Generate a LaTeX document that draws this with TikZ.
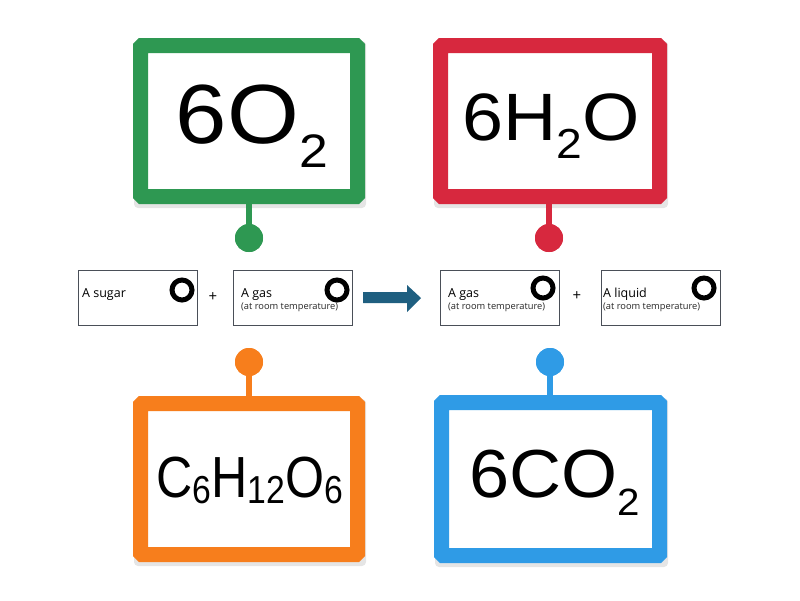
\documentclass[tikz,border=0pt]{standalone}
\usepackage{fontspec}
\setmainfont{Liberation Sans}
\newfontfamily\smallfont{Open Sans}
\definecolor{cgreen}{HTML}{2E9852}
\definecolor{cred}{HTML}{D7283E}
\definecolor{corange}{HTML}{F77E1C}
\definecolor{cblue}{HTML}{2F9BE6}
\definecolor{carrow}{HTML}{1F5F80}
\definecolor{cbord}{HTML}{4A4F58}
\tikzset{
  bigbox/.style={draw=#1, line width=15pt, fill=white, rounded corners=1.5pt},
  shadowbox/.style={fill=black, opacity=0.10, rounded corners=4pt},
  stem/.style={draw=#1, line width=6pt},
  knob/.style={circle, fill=#1, minimum size=28pt, inner sep=0pt},
  smallbox/.style={draw=cbord, line width=0.8pt, fill=white, minimum width=119pt, minimum height=55pt, inner sep=0pt},
  ring/.style={circle, draw=black, line width=5pt, minimum size=20pt, inner sep=0pt},
  lbl/.style={anchor=base west, inner sep=0pt, font=\smallfont\fontsize{12.5}{14}\selectfont},
  sublbl/.style={anchor=base west, inner sep=0pt, font=\smallfont\fontsize{9.3}{10}\selectfont, text=black!85},
  plus/.style={inner sep=0pt, font=\smallfont\fontsize{15}{15}\selectfont},
  formula/.style={anchor=base, inner sep=0pt}
}
\begin{document}
\begin{tikzpicture}[x=1pt,y=-1pt]
\useasboundingbox (0,0) rectangle (800,600);
% shadows
\fill[shadowbox] (134,41) rectangle (366,208);
\fill[shadowbox] (434,41) rectangle (668,208);
\fill[shadowbox] (134,399) rectangle (366,566);
\fill[shadowbox] (435,398) rectangle (668,567);
% big boxes
\draw[bigbox=cgreen] (140.5,45.5) rectangle (357.5,196.5);
\draw[bigbox=cred] (440.5,45.5) rectangle (659.5,196.5);
\draw[bigbox=corange] (140.5,403.5) rectangle (357.5,554.5);
\draw[bigbox=cblue] (441.5,402.5) rectangle (659.5,555.5);
% stems and knobs
\coordinate (gs) at (249,204);
\node[knob=cgreen] (gk) at (249,238) {};
\draw[stem=cgreen] (gs) -- (gk.center);
\node[knob=cgreen] at (249,238) {};
\coordinate (rs) at (549,204);
\node[knob=cred] (rk) at (549,238) {};
\draw[stem=cred] (rs) -- (rk.center);
\node[knob=cred] at (549,238) {};
\coordinate (os) at (249,396);
\node[knob=corange] (ok) at (249,362) {};
\draw[stem=corange] (os) -- (ok.center);
\node[knob=corange] at (249,362) {};
\coordinate (bs) at (550,395);
\node[knob=cblue] (bk) at (550,362) {};
\draw[stem=cblue] (bs) -- (bk.center);
\node[knob=cblue] at (550,362) {};
% formulas
\node[formula, font=\fontsize{84}{84}\selectfont] (f1) at (252,143) {\scalebox{1.1}[1]{6O\raisebox{-24pt}{\fontsize{47}{47}\selectfont 2}}};
\node[formula, font=\fontsize{67}{67}\selectfont] (f2) at (551,140) {\scalebox{1.1}[1]{6H\raisebox{-18pt}{\fontsize{42}{42}\selectfont 2}O}};
\node[formula, font=\fontsize{58}{58}\selectfont] (f3) at (250,497) {\scalebox{0.865}[1]{C\raisebox{-6pt}{\fontsize{39}{39}\selectfont 6}H\raisebox{-6pt}{\fontsize{39}{39}\selectfont 12}O\raisebox{-6pt}{\fontsize{39}{39}\selectfont 6}}};
\node[formula, font=\fontsize{68}{68}\selectfont] (f4) at (555,497) {\scalebox{1.06}[1]{6CO\raisebox{-18pt}{\fontsize{38}{38}\selectfont 2}}};
% small boxes
\node[smallbox] (b1) at (138,297.5) {};
\node[smallbox] (b2) at (292.5,297.5) {};
\node[smallbox] (b3) at (500,297.5) {};
\node[smallbox] (b4) at (660.5,297.5) {};
\node[ring] (r1) at (182,290) {};
\node[ring] (r2) at (337,290) {};
\node[ring] (r3) at (543,288) {};
\node[ring] (r4) at (704,288) {};
\node[lbl] (t1) at (82,297) {A sugar};
\node[lbl] (t2) at (241,297) {A gas};
\node[sublbl] (s2) at (241,309) {(at room temperature)};
\node[lbl] (t3) at (448,297) {A gas};
\node[sublbl] (s3) at (448,309) {(at room temperature)};
\node[lbl] (t4) at (603,297) {A liquid};
\node[sublbl] (s4) at (603,309) {(at room temperature)};
\node[plus] (p1) at (213,297) {+};
\node[plus] (p2) at (577,296) {+};
% arrow
\fill[carrow] (363,292) -- (407,292) -- (407,285) -- (421,298) -- (407,312) -- (407,303) -- (363,303) -- cycle;
\end{tikzpicture}
\end{document}
